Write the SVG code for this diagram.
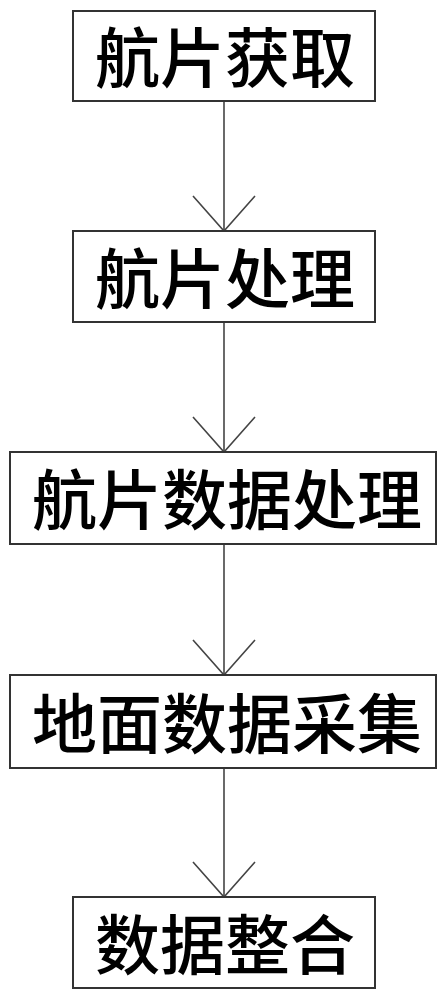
<svg xmlns="http://www.w3.org/2000/svg" width="447" height="1000" viewBox="0 0 447 1000">
<style>
.box{fill:#fff;stroke:#333;stroke-width:2}
.lbl{font-family:"Noto Sans CJK SC","Noto Sans CJK JP",sans-serif;font-size:65px;font-weight:500;fill:#000;text-anchor:middle;dominant-baseline:central}
.conn{stroke:#444;stroke-width:1.6;fill:none}
</style>
<defs>
<marker id="arr" markerUnits="userSpaceOnUse" markerWidth="80" markerHeight="80" refX="0" refY="0" orient="auto" overflow="visible">
<path d="M-35,-31 L0,0 L-35,31" fill="none" stroke="#444" stroke-width="1.6"/>
</marker>
</defs>
<rect width="447" height="1000" fill="#fff"/>
<g id="connectors">
<line class="conn" x1="224" y1="101" x2="224" y2="231" marker-end="url(#arr)"/>
<line class="conn" x1="224" y1="322" x2="224" y2="452" marker-end="url(#arr)"/>
<line class="conn" x1="224" y1="544" x2="224" y2="675" marker-end="url(#arr)"/>
<line class="conn" x1="224" y1="768" x2="224" y2="897" marker-end="url(#arr)"/>
</g>
<g id="n1"><rect class="box" x="73" y="11" width="302" height="90"/><text class="lbl" x="225" y="54">航片获取</text></g>
<g id="n2"><rect class="box" x="73" y="231" width="302" height="91"/><text class="lbl" x="225" y="275">航片处理</text></g>
<g id="n3"><rect class="box" x="10" y="452" width="426" height="92"/><text class="lbl" x="227" y="496">航片数据处理</text></g>
<g id="n4"><rect class="box" x="10" y="675" width="426" height="93"/><text class="lbl" x="227" y="720">地面数据采集</text></g>
<g id="n5"><rect class="box" x="73" y="897" width="302" height="91"/><text class="lbl" x="225" y="941">数据整合</text></g>
</svg>
